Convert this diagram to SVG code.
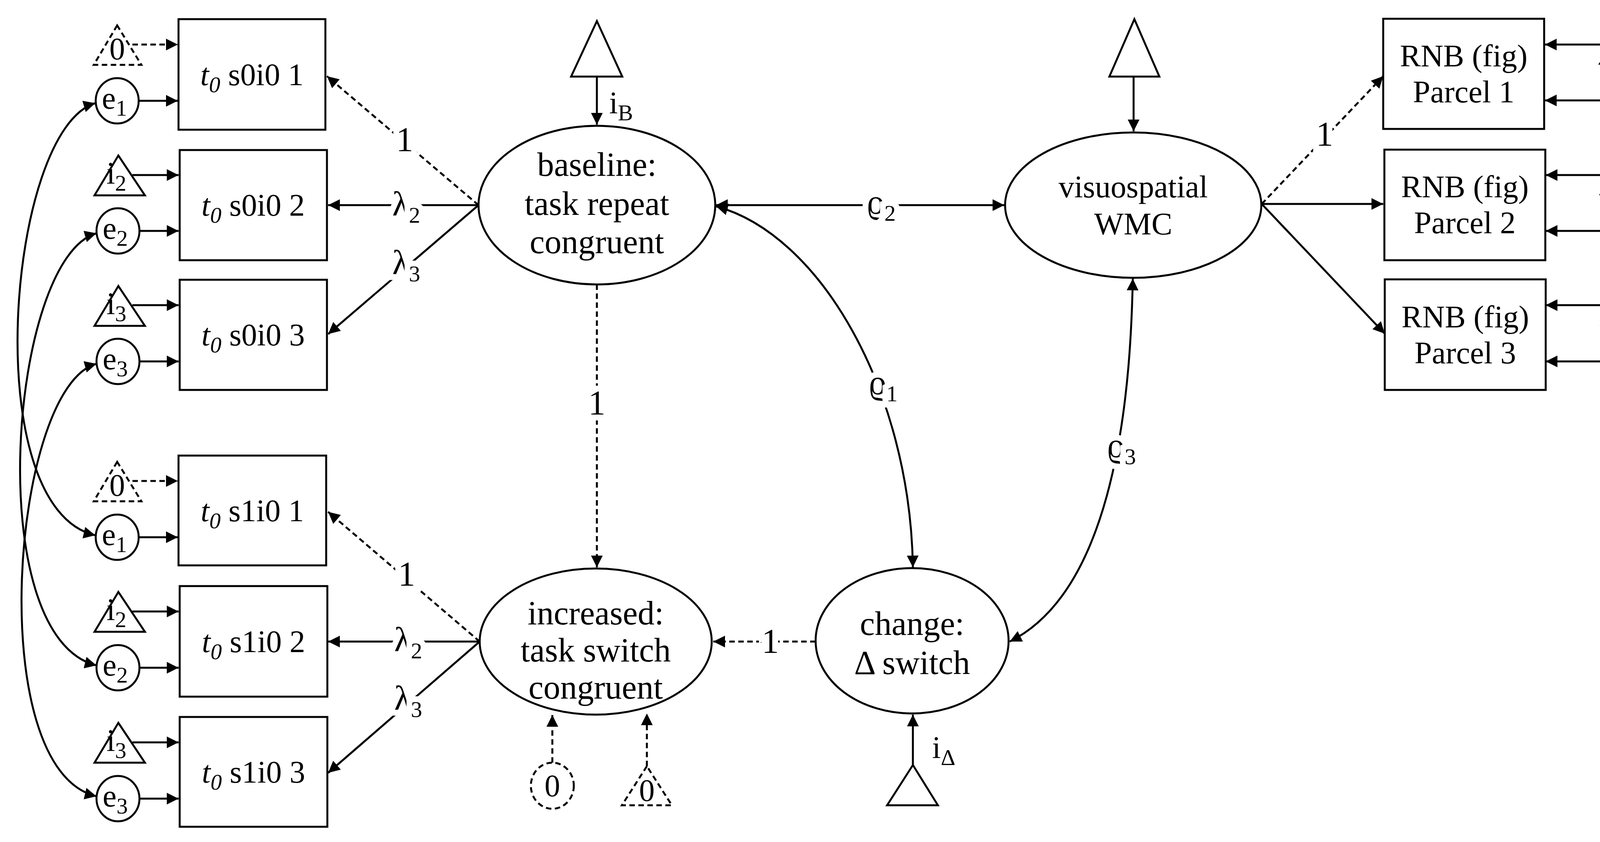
<svg xmlns="http://www.w3.org/2000/svg" width="4262" height="2155" viewBox="0 0 4262 2155">
<style>
text{font-family:"Liberation Serif",serif;font-size:80px;fill:#000;text-anchor:middle}
.s{font-size:58px}
.e{font-size:86px}
.lbl{stroke:#fff;stroke-width:30px;paint-order:stroke;font-size:88px}
.sh{fill:#fff;stroke:#000;stroke-width:5}
.dsh{fill:#fff;stroke:#000;stroke-width:5;stroke-dasharray:14 9}
.c{fill:none;stroke:#000;stroke-width:5;marker-end:url(#a)}
.d{fill:none;stroke:#000;stroke-width:5;stroke-dasharray:14 9;marker-end:url(#a)}
.b{fill:none;stroke:#000;stroke-width:5;marker-end:url(#a);marker-start:url(#a)}
</style>
<defs>
<marker id="a" viewBox="0 0 10 10" refX="10" refY="5" markerWidth="36" markerHeight="30" markerUnits="userSpaceOnUse" orient="auto-start-reverse"><path d="M0,0L10,5L0,10z" fill="#000"/></marker>
</defs>
<rect width="4262" height="2155" fill="#fff"/>
<g id="connectors">
<path class="c" d="M355,258H455"/>
<path class="c" d="M339,448H457"/><path class="c" d="M357,591H457"/>
<path class="c" d="M339,781H457"/><path class="c" d="M357,925H457"/>
<path class="d" d="M339,1231H455"/><path class="c" d="M355,1375H455"/>
<path class="c" d="M339,1565H457"/><path class="c" d="M357,1709H457"/>
<path class="c" d="M339,1900H457"/><path class="c" d="M357,2044H457"/>
<path class="d" d="M339,114H455"/>
<path class="b" d="M244,264C20,330 -60,1300 244,1370"/>
<path class="b" d="M247,597C25,660 -50,1630 247,1703"/>
<path class="b" d="M247,931C30,990 -45,1970 247,2038"/>
<path class="d" d="M1225,525L837,195"/><path class="c" d="M1225,525H840"/><path class="c" d="M1225,525L840,855"/>
<path class="d" d="M1228,1642L840,1310"/><path class="c" d="M1228,1642H840"/><path class="c" d="M1228,1642L840,1978"/>
<path class="d" d="M1528,728V1452"/>
<path class="d" d="M2088,1642H1826"/>
<path class="b" d="M2571,525H1833"/>
<path class="b" d="M1833,528C2100,600 2330,1000 2337,1452"/>
<path class="b" d="M2900,713C2895,950 2870,1500 2585,1642"/>
<path class="d" d="M3230,522L3541,195"/><path class="c" d="M3230,522H3541"/><path class="c" d="M3230,522L3545,854"/>
<path class="c" d="M1528,196V319"/>
<path class="c" d="M2902,196V336"/>
<path class="d" d="M1414,1952V1830"/>
<path class="d" d="M1656,1961V1826"/>
<path class="c" d="M2337,1958V1829"/>
<path class="c" d="M4129,114H3955"/><path class="c" d="M4104,257H3955"/>
<path class="c" d="M4131,448H3957"/><path class="c" d="M4106,591H3957"/>
<path class="c" d="M4133,781H3957"/><path class="c" d="M4108,925H3957"/>
<text class="lbl" x="1036" y="386">1</text>
<text class="lbl" x="1040" y="552">λ<tspan class="s" dy="18">2</tspan></text>
<text class="lbl" x="1040" y="702">λ<tspan class="s" dy="18">3</tspan></text>
<text class="lbl" x="1041" y="1498">1</text>
<text class="lbl" x="1045" y="1667">λ<tspan class="s" dy="18">2</tspan></text>
<text class="lbl" x="1045" y="1817">λ<tspan class="s" dy="18">3</tspan></text>
<text class="lbl" x="1528" y="1060">1</text>
<text class="lbl" x="1972" y="1670">1</text>
<text class="lbl" x="2256" y="547">ϱ<tspan class="s" dy="18">2</tspan></text>
<text class="lbl" x="2261" y="1009">ϱ<tspan class="s" dy="18">1</tspan></text>
<text class="lbl" x="2871" y="1170">ϱ<tspan class="s" dy="18">3</tspan></text>
<text class="lbl" x="3391" y="372">1</text>
<text x="1590" y="290" font-size="88">i<tspan class="s" dy="18">B</tspan></text>
<text x="2416" y="1940" font-size="88">i<tspan class="s" dy="18">Δ</tspan></text>
</g>
<g id="lefttri">
<polygon class="dsh" points="300,65 240,166 362,166"/><text x="300" y="152">0</text>
<polygon class="sh" points="303,398 242,500 371,500"/><text x="298" y="470">i<tspan class="s" dy="18">2</tspan></text>
<polygon class="sh" points="303,732 242,834 371,834"/><text x="298" y="804">i<tspan class="s" dy="18">3</tspan></text>
<polygon class="dsh" points="300,1182 240,1283 362,1283"/><text x="300" y="1269">0</text>
<polygon class="sh" points="303,1515 242,1617 371,1617"/><text x="298" y="1587">i<tspan class="s" dy="18">2</tspan></text>
<polygon class="sh" points="303,1850 242,1952 371,1952"/><text x="298" y="1922">i<tspan class="s" dy="18">3</tspan></text>
</g>
<g id="errors">
<ellipse class="sh" cx="300" cy="258" rx="55" ry="58"/><text x="293" y="278">e<tspan class="s" dy="18">1</tspan></text>
<ellipse class="sh" cx="302" cy="591" rx="55" ry="58"/><text x="295" y="611">e<tspan class="s" dy="18">2</tspan></text>
<ellipse class="sh" cx="302" cy="925" rx="55" ry="58"/><text x="295" y="945">e<tspan class="s" dy="18">3</tspan></text>
<ellipse class="sh" cx="300" cy="1375" rx="55" ry="58"/><text x="293" y="1395">e<tspan class="s" dy="18">1</tspan></text>
<ellipse class="sh" cx="302" cy="1709" rx="55" ry="58"/><text x="295" y="1729">e<tspan class="s" dy="18">2</tspan></text>
<ellipse class="sh" cx="302" cy="2044" rx="55" ry="58"/><text x="295" y="2064">e<tspan class="s" dy="18">3</tspan></text>
</g>
<g id="box1"><rect class="sh" x="457" y="49" width="376" height="283"/><text x="645" y="218"><tspan font-style="italic">t</tspan><tspan class="s" font-style="italic" dy="18">0</tspan><tspan dy="-18"> s0i0 1</tspan></text></g>
<g id="box2"><rect class="sh" x="460" y="384" width="377" height="282"/><text x="648" y="552"><tspan font-style="italic">t</tspan><tspan class="s" font-style="italic" dy="18">0</tspan><tspan dy="-18"> s0i0 2</tspan></text></g>
<g id="box3"><rect class="sh" x="460" y="716" width="377" height="282"/><text x="648" y="884"><tspan font-style="italic">t</tspan><tspan class="s" font-style="italic" dy="18">0</tspan><tspan dy="-18"> s0i0 3</tspan></text></g>
<g id="box4"><rect class="sh" x="457" y="1166" width="378" height="281"/><text x="646" y="1334"><tspan font-style="italic">t</tspan><tspan class="s" font-style="italic" dy="18">0</tspan><tspan dy="-18"> s1i0 1</tspan></text></g>
<g id="box5"><rect class="sh" x="460" y="1500" width="378" height="283"/><text x="649" y="1669"><tspan font-style="italic">t</tspan><tspan class="s" font-style="italic" dy="18">0</tspan><tspan dy="-18"> s1i0 2</tspan></text></g>
<g id="box6"><rect class="sh" x="460" y="1835" width="378" height="281"/><text x="649" y="2003"><tspan font-style="italic">t</tspan><tspan class="s" font-style="italic" dy="18">0</tspan><tspan dy="-18"> s1i0 3</tspan></text></g>
<g id="baseline"><ellipse class="sh" cx="1528" cy="525" rx="303" ry="203"/><text class="e" x="1528" y="450">baseline:</text><text class="e" x="1528" y="550">task repeat</text><text class="e" x="1528" y="648">congruent</text></g>
<g id="increased"><ellipse class="sh" cx="1525" cy="1642" rx="297" ry="187"/><text class="e" x="1525" y="1598">increased:</text><text class="e" x="1525" y="1693">task switch</text><text class="e" x="1525" y="1788">congruent</text></g>
<g id="change"><ellipse class="sh" cx="2335" cy="1640" rx="247" ry="186"/><text class="e" x="2335" y="1625">change:</text><text class="e" x="2335" y="1725">Δ switch</text></g>
<g id="visuo"><ellipse class="sh" cx="2901" cy="525" rx="328" ry="186"/><text x="2901" y="505" font-size="88">visuospatial</text><text x="2901" y="600" font-size="88">WMC</text></g>
<g id="tops">
<polygon class="sh" points="1528,54 1462,196 1593,196"/>
<polygon class="sh" points="2904,49 2840,196 2968,196"/>
<ellipse class="dsh" cx="1414" cy="2011" rx="55" ry="59"/><text x="1414" y="2038">0</text>
<polygon class="dsh" points="1656,1961 1592,2061 1720,2061"/><text x="1656" y="2050">0</text>
<polygon class="sh" points="2337,1958 2271,2061 2401,2061"/>
</g>
<g id="rnb1"><rect class="sh" x="3541" y="48" width="412" height="282"/><text x="3747" y="170">RNB (fig)</text><text x="3747" y="262">Parcel 1</text></g>
<g id="rnb2"><rect class="sh" x="3544" y="383" width="412" height="283"/><text x="3750" y="505">RNB (fig)</text><text x="3750" y="597">Parcel 2</text></g>
<g id="rnb3"><rect class="sh" x="3545" y="715" width="412" height="283"/><text x="3751" y="838">RNB (fig)</text><text x="3751" y="930">Parcel 3</text></g>
<g id="righttri">
<polygon class="sh" points="4160,66 4096,163 4225,163"/><ellipse class="sh" cx="4158" cy="257" rx="54" ry="58"/>
<polygon class="sh" points="4162,400 4098,497 4227,497"/><ellipse class="sh" cx="4160" cy="590" rx="54" ry="58"/>
<polygon class="sh" points="4164,733 4100,830 4229,830"/><ellipse class="sh" cx="4162" cy="923" rx="54" ry="58"/>
</g>
</svg>
